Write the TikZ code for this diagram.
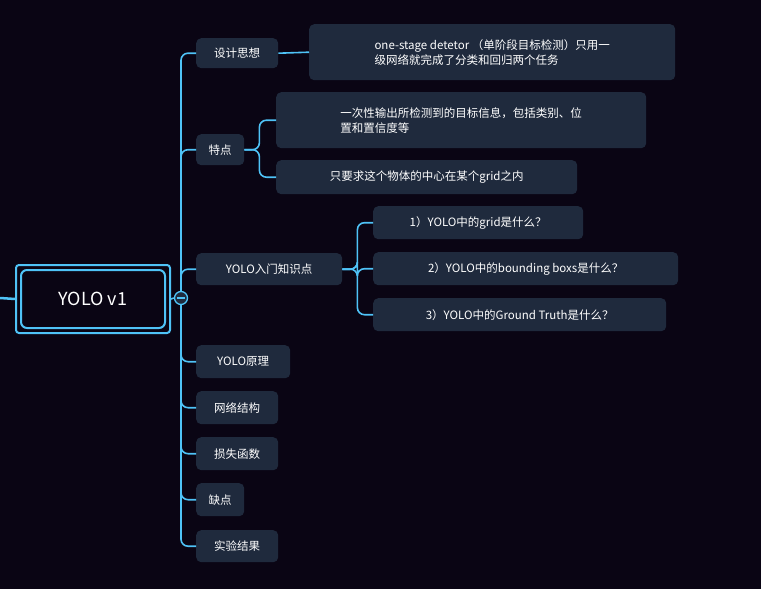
\documentclass[tikz,border=0pt]{standalone}
\usepackage{fontspec}
\setmainfont{Noto Sans CJK SC}
\definecolor{bg}{HTML}{0A0514}
\definecolor{ln}{HTML}{4FC3F7}
\definecolor{bx}{HTML}{1F2A3D}
\begin{document}
\begin{tikzpicture}[x=1pt,y=-1pt,
 box/.style={fill=bx,rounded corners=5pt,text=white,font=\fontsize{11.5pt}{15pt}\selectfont,inner xsep=7pt,inner ysep=0pt,align=left,anchor=north west},
 conn/.style={draw=ln,line width=1.6pt,rounded corners=7pt}]
\fill[bg] (0,0) rectangle (761,589);
\useasboundingbox (0,0) rectangle (761,589);
% root
\node[draw=ln,line width=2pt,rounded corners=3pt,minimum width=154pt,minimum height=68pt] (rootout) at (93,299) {};
\node[draw=ln,line width=2pt,fill=bg,rounded corners=6pt,minimum width=144pt,minimum height=58pt,text=white,font=\fontsize{18pt}{20pt}\selectfont] (root) at (93,299) {YOLO v1};
\coordinate (lft) at (0,298);
\draw[ln,line width=2.5pt] (lft) -- (rootout.west);
\node[circle,draw=ln,line width=1.3pt,fill=bx,minimum size=13pt,inner sep=0pt] (c) at (181,298) {};
\draw[ln,line width=1.3pt] (c.center)+(-4,0) -- +(4,0);
\draw[ln,line width=1.6pt] (rootout.east) -- (c.west);
% children
\newcommand\bnode[6]{\node[box,minimum width=#4pt,minimum height=#5pt] (#1) at (#2,#3) {#6};}
\bnode{a}{196}{38}{82}{30}{设计思想}
\bnode{a1}{309}{24}{366}{56}{one-stage detetor （单阶段目标检测）只用一\\级网络就完成了分类和回归两个任务}
\bnode{b}{196}{134}{48}{31}{特点}
\bnode{b1}{276}{92}{370}{56}{一次性输出所检测到的目标信息，包括类别、位\\置和置信度等}
\bnode{b2}{276}{160}{301}{34}{只要求这个物体的中心在某个grid之内}
\bnode{d}{196}{253}{146}{32}{YOLO入门知识点}
\bnode{d1}{373}{206}{210}{33}{1）YOLO中的grid是什么？}
\bnode{d2}{373}{252}{305}{33}{2）YOLO中的bounding boxs是什么？}
\bnode{d3}{373}{298}{293}{33}{3）YOLO中的Ground Truth是什么？}
\bnode{e}{196}{345}{94}{33}{YOLO原理}
\bnode{f}{196}{391}{82}{33}{网络结构}
\bnode{g}{196}{437}{82}{33}{损失函数}
\bnode{h}{196}{483}{48}{33}{缺点}
\bnode{i}{196}{530}{82}{32}{实验结果}
\foreach \n in {a,b,d}{\draw[conn] (c.north) |- (\n.west);}
\foreach \n in {e,f,g,h,i}{\draw[conn] (c.south) |- (\n.west);}
\draw[conn] (a.east) -- (a1.west);
\draw[conn] (b.east) -- ++(15,0) |- (b1.west);
\draw[conn] (b.east) -- ++(15,0) |- (b2.west);
\draw[conn] (d.east) -- ++(15,0) |- (d1.west);
\draw[conn] (d.east) -- ++(15,0) |- (d2.west);
\draw[conn] (d.east) -- ++(15,0) |- (d3.west);
\end{tikzpicture}
\end{document}
